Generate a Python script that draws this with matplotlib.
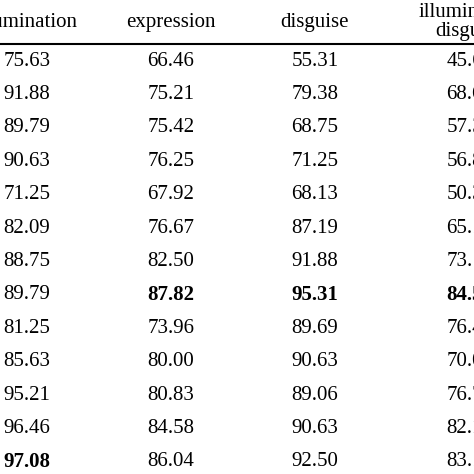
import matplotlib.pyplot as plt

headers = ['illumination', 'expression', 'disguise', 'illumination\ndisguise']
col_illum = ['75.63', '91.88', '89.79', '90.63', '71.25', '82.09', '88.75',
             '89.79', '81.25', '85.63', '95.21', '96.46', '97.08']
col_expr = ['66.46', '75.21', '75.42', '76.25', '67.92', '76.67', '82.50',
            '87.82', '73.96', '80.00', '80.83', '84.58', '86.04']
col_disg = ['55.31', '79.38', '68.75', '71.25', '68.13', '87.19', '91.88',
            '95.31', '89.69', '90.63', '89.06', '90.63', '92.50']
col_both = ['45.63', '68.66', '57.32', '56.85', '50.31', '65.16', '73.13',
            '84.53', '76.41', '70.00', '76.72', '82.19', '83.13']
# (column, row) cells printed in bold
bold_cells = {(0, 12), (1, 7), (2, 7), (3, 7)}

plt.rcParams['font.family'] = ['Liberation Serif', 'DejaVu Serif']

fig = plt.figure(figsize=(4.74, 4.74), dpi=100)
ax = fig.add_axes([0, 0, 1, 1])
ax.set_xlim(0, 474)
ax.set_ylim(474, 0)
ax.axis('off')

# the reference is a crop of a wider table, so edge columns are cut off
col_x = [27, 171, 315, 470]
fs = 15

for cx, h in zip(col_x, headers):
    ax.text(cx, 22, h, ha='center', va='center', fontsize=fs, linespacing=1.0)
ax.plot([0, 474], [44, 44], color='black', lw=1.5)

columns = [col_illum, col_expr, col_disg, col_both]
for ci, (cx, col) in enumerate(zip(col_x, columns)):
    for ri, v in enumerate(col):
        y = 61 + ri * 33.4
        ax.text(cx, y, v, ha='center', va='center', fontsize=fs,
                fontweight='bold' if (ci, ri) in bold_cells else 'normal')

fig.savefig('out.png', dpi=100)
